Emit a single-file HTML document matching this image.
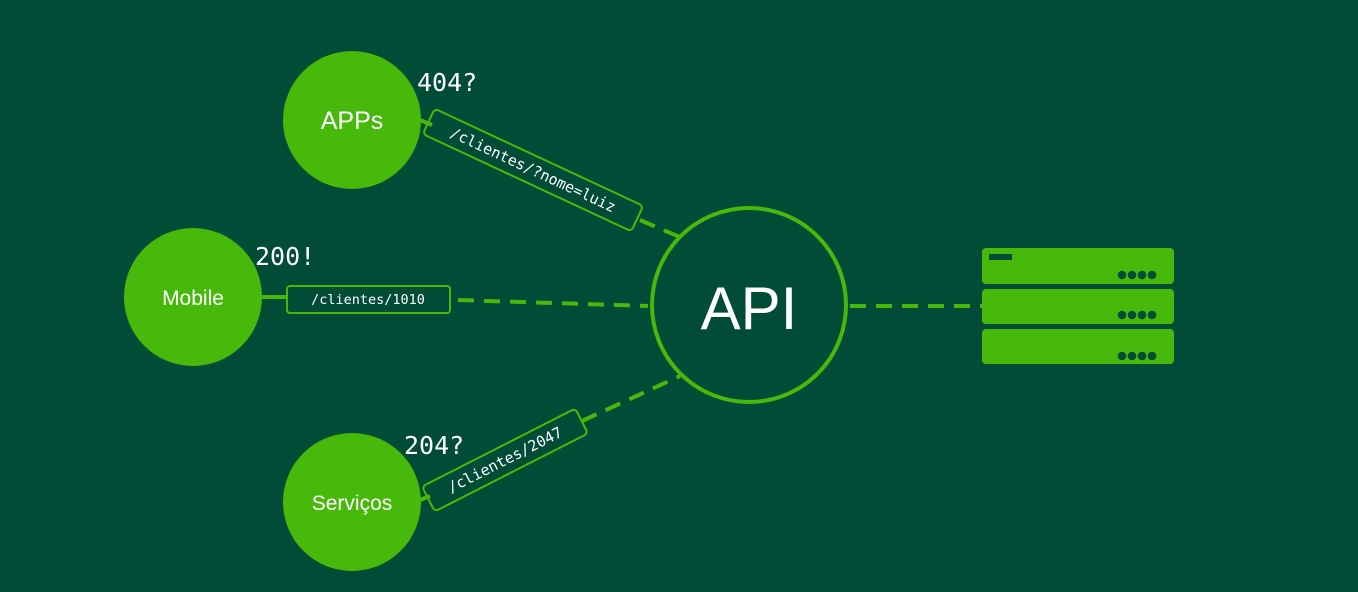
<!DOCTYPE html>
<html><head><style>
html,body{margin:0;padding:0;background:#004c36;width:1358px;height:592px;overflow:hidden}
svg{display:block}
.m{font-family:"DejaVu Sans Mono","Liberation Mono",monospace;fill:#fff}
.s{font-family:"Liberation Sans","DejaVu Sans",sans-serif;fill:#fff}
</style></head><body>
<svg width="1358" height="592" viewBox="0 0 1358 592">
<rect width="1358" height="592" fill="#004c36"/>
<g stroke="#47b90b" stroke-width="4" fill="none" stroke-dasharray="16 10">
<line x1="420" y1="120" x2="432" y2="125" stroke-dasharray="none"/>
<line x1="640" y1="220" x2="682" y2="238"/>
<line x1="262" y1="297" x2="287" y2="297" stroke-dasharray="none"/>
<line x1="458" y1="300" x2="648" y2="306"/>
<line x1="420" y1="500" x2="430" y2="496" stroke-dasharray="none"/>
<line x1="582" y1="421" x2="680" y2="376"/>
<line x1="850" y1="306" x2="982" y2="306"/>
</g>
<circle cx="352" cy="120" r="69" fill="#47b90b"/>
<circle cx="193" cy="297" r="69" fill="#47b90b"/>
<circle cx="352" cy="502" r="69" fill="#47b90b"/>
<text x="352" y="129" class="s" font-size="25" text-anchor="middle">APPs</text>
<text x="193" y="305" class="s" font-size="21" text-anchor="middle">Mobile</text>
<text x="352" y="510" class="s" font-size="21" text-anchor="middle">Serviços</text>
<circle cx="749" cy="305" r="97" fill="none" stroke="#47b90b" stroke-width="4"/>
<text x="749" y="329" class="s" font-size="60" text-anchor="middle">API</text>
<text x="417" y="91" class="m" font-size="25">404?</text>
<text x="255" y="265" class="m" font-size="25">200!</text>
<text x="404" y="454" class="m" font-size="25">204?</text>
<g transform="translate(533,170) rotate(25)">
<rect x="-115" y="-14" width="230" height="28" rx="4" fill="none" stroke="#47b90b" stroke-width="2"/>
<text x="0" y="5" class="m" font-size="15" text-anchor="middle">/clientes/?nome=luiz</text>
</g>
<rect x="287" y="286" width="163" height="27" rx="3" fill="none" stroke="#47b90b" stroke-width="2"/>
<text x="368" y="304" class="m" font-size="13.5" text-anchor="middle">/clientes/1010</text>
<g transform="translate(505,460) rotate(-27)">
<rect x="-86" y="-14" width="172" height="28" rx="4" fill="none" stroke="#47b90b" stroke-width="2"/>
<text x="0" y="5" class="m" font-size="15" text-anchor="middle">/clientes/2047</text>
</g>
<g fill="#47b90b">
<rect x="982" y="248" width="192" height="36" rx="4"/>
<rect x="982" y="289" width="192" height="35" rx="4"/>
<rect x="982" y="329" width="192" height="35" rx="4"/>
</g>
<rect x="989" y="254" width="23" height="6" fill="#004c36"/>
<g fill="#004c36">
<circle cx="1122" cy="275" r="4.3"/><circle cx="1132" cy="275" r="4.3"/><circle cx="1142" cy="275" r="4.3"/><circle cx="1152" cy="275" r="4.3"/>
<circle cx="1122" cy="315" r="4.3"/><circle cx="1132" cy="315" r="4.3"/><circle cx="1142" cy="315" r="4.3"/><circle cx="1152" cy="315" r="4.3"/>
<circle cx="1122" cy="356" r="4.3"/><circle cx="1132" cy="356" r="4.3"/><circle cx="1142" cy="356" r="4.3"/><circle cx="1152" cy="356" r="4.3"/>
</g>
</svg>
</body></html>
